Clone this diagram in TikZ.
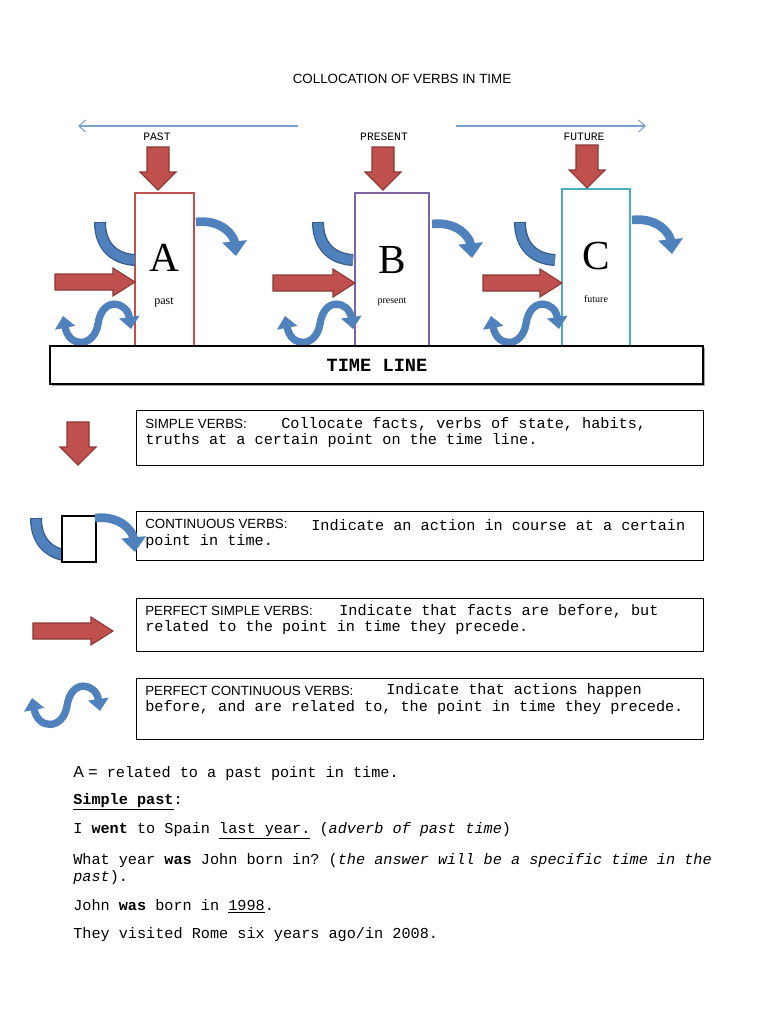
\documentclass[tikz,border=0pt]{standalone}
\usepackage{fontspec}
\setmainfont{Liberation Serif}
\setsansfont{Liberation Sans}
\setmonofont{Liberation Mono}
\usetikzlibrary{arrows.meta}
\definecolor{rfill}{HTML}{C0504D}
\definecolor{rline}{HTML}{8C3836}
\definecolor{bfill}{HTML}{4F81BD}
\definecolor{bline}{HTML}{385D8A}
\definecolor{topline}{HTML}{7BA0CD}
\definecolor{purp}{HTML}{8064A2}
\definecolor{cyanb}{HTML}{4BACC6}
\newcommand{\Darr}[2]{\fill[rfill,draw=rline,line width=0.8pt] (#1-11,#2) -- (#1+11,#2) -- (#1+11,#2+25) -- (#1+18,#2+25) -- (#1,#2+43) -- (#1-18,#2+25) -- (#1-11,#2+25) -- cycle;}
\newcommand{\Rarr}[3]{\fill[rfill,draw=rline,line width=0.8pt] (#1,#2-8) -- (#1+#3-22,#2-8) -- (#1+#3-22,#2-14) -- (#1+#3,#2) -- (#1+#3-22,#2+14) -- (#1+#3-22,#2+8) -- (#1,#2+8) -- cycle;
 \node[font=\fontsize{6}{6}\selectfont,text=rline!60] at (#1+#3/2-8,#2) {. .};}
\newcommand{\Lcurve}[2]{\draw[bline,line width=9pt] (#1,#2) .. controls (#1,#2+25) and (#1+15,#2+37) .. (#1+35,#2+38);
 \draw[bfill,line width=7pt] (#1,#2+1) .. controls (#1,#2+25) and (#1+15,#2+37) .. (#1+35,#2+38);}
\newcommand{\Rcurve}[2]{\draw[bfill,line width=6.5pt,-{Triangle[width=18pt,length=11pt]}] (#1,#2) .. controls (#1+26,#2-3) and (#1+38,#2+14) .. (#1+40,#2+34);}
\newcommand{\Scurve}[2]{\draw[bfill,line width=5.5pt,{Triangle[width=15pt,length=9pt]}-{Triangle[width=15pt,length=9pt]}] (#1,#2) .. controls (#1+6,#2+32) and (#1+31,#2+32) .. (#1+35,#2+8) .. controls (#1+39,#2-20) and (#1+64,#2-15) .. (#1+68,#2+13);}
\begin{document}
\begin{tikzpicture}[x=0.75pt,y=-0.75pt,
 mono/.style={font=\ttfamily\fontsize{11.4}{13}\selectfont,anchor=west,inner sep=0},
 lab/.style={font=\sffamily\fontsize{10}{12}\selectfont,inner sep=0},
 legbox/.style={draw=black,line width=0.6pt}]
\useasboundingbox (0,0) rectangle (768,1024);
\node[font=\sffamily\fontsize{10}{12}\selectfont] (title) at (402,79) {COLLOCATION OF VERBS IN TIME};
\coordinate (l1) at (298,126); \coordinate (l2) at (78,126);
\coordinate (r1) at (456,126); \coordinate (r2) at (646,126);
\draw[topline,line width=0.8pt,-{Straight Barb[length=5pt,width=9pt]}] (l1) -- (l2);
\draw[topline,line width=0.8pt,-{Straight Barb[length=5pt,width=9pt]}] (r1) -- (r2);
\node[font=\ttfamily\fontsize{8.5}{10}\selectfont] (past) at (157,137) {PAST};
\node[font=\ttfamily\fontsize{8.5}{10}\selectfont] (present) at (384,137) {PRESENT};
\node[font=\ttfamily\fontsize{8.5}{10}\selectfont] (future) at (584,137) {FUTURE};
% boxes
\draw[rfill,line width=1pt] (135,193) rectangle (194,346);
\draw[purp,line width=1pt] (355,193) rectangle (429,346);
\draw[cyanb,line width=1pt] (562,189) rectangle (630,346);
\node[font=\fontsize{31}{31}\selectfont] (A) at (164,258) {A};
\node[font=\fontsize{31}{31}\selectfont] (B) at (392,260) {B};
\node[font=\fontsize{31}{31}\selectfont] (C) at (596,256) {C};
\node[font=\fontsize{9}{10}\selectfont] at (164,302) {past};
\node[font=\fontsize{7.5}{9}\selectfont] at (392,302) {present};
\node[font=\fontsize{7.5}{9}\selectfont] at (596,299) {future};
\Darr{158}{147} \Darr{383}{147} \Darr{587}{145}
\Rarr{55}{282}{80} \Rarr{273}{283}{82} \Rarr{483}{283}{79}
\Lcurve{100}{222} \Lcurve{318}{222} \Lcurve{520}{222}
\Rcurve{196}{222} \Rcurve{432}{224} \Rcurve{632}{220}
\Scurve{63}{316} \Scurve{285}{316} \Scurve{491}{316}
% time line
\fill[black!35] (52,348) rectangle (705,386);
\draw[fill=white,line width=1pt] (50,346) rectangle (703,384);
\node[font=\ttfamily\bfseries\fontsize{14}{16}\selectfont] (tl) at (377,365) {TIME LINE};
% legend
\draw[legbox] (136,410) rectangle (703,465);
\draw[legbox] (136,511) rectangle (703,560);
\draw[legbox] (136,598) rectangle (703,651);
\draw[legbox] (136,678) rectangle (703,739);
\Darr{78}{422}
\Lcurve{36}{518}
\draw[line width=1.6pt,fill=white] (62,516) rectangle (96,562);
\Rcurve{95}{518}
\Rarr{33}{631}{80}
\Scurve{32}{698}
\node[lab,anchor=west] at (145,424) {SIMPLE VERBS:};
\node[mono] at (281,424) {Collocate facts, verbs of state, habits,};
\node[mono] at (145,441) {truths at a certain point on the time line.};
\node[lab,anchor=west] at (145,524) {CONTINUOUS VERBS:};
\node[mono] at (311,525) {Indicate an action in course at a certain};
\node[mono] at (145,542) {point in time.};
\node[lab,anchor=west] at (145,611) {PERFECT SIMPLE VERBS:};
\node[mono] at (339,611) {Indicate that facts are before, but};
\node[mono] at (145,628) {related to the point in time they precede.};
\node[lab,anchor=west] at (145,691) {PERFECT CONTINUOUS VERBS:};
\node[mono] at (386,691) {Indicate that actions happen};
\node[mono] at (145,708) {before, and are related to, the point in time they precede.};
% bottom text
\node[mono] at (73,774) {{\sffamily\fontsize{12}{14}\selectfont A =} related to a past point in time.};
\node[mono] at (73,802) {\textbf{\underline{Simple past}}:};
\node[mono] at (73,831) {I \textbf{went} to Spain \underline{last year.} (\textit{adverb of past time})};
\node[mono] at (73,861) {What year \textbf{was} John born in? (\textit{the answer will be a specific time in the}};
\node[mono] at (73,878) {\textit{past}).};
\node[mono] at (73,906) {John \textbf{was} born in \underline{1998}.};
\node[mono] at (73,935) {They visited Rome six years ago/in 2008.};
\end{tikzpicture}
\end{document}
